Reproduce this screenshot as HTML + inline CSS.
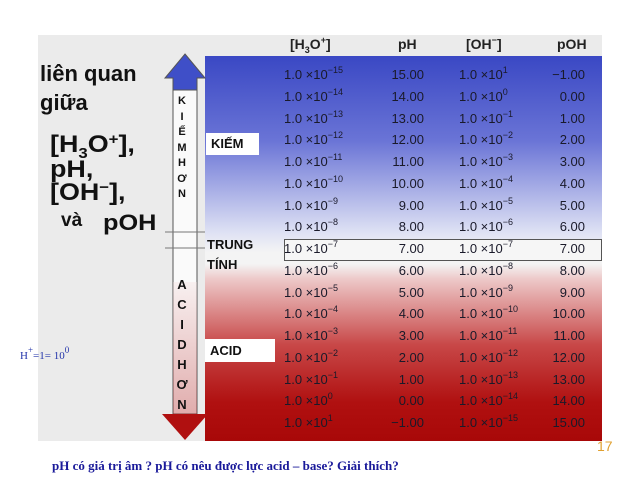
<!DOCTYPE html>
<html><head><meta charset="utf-8"><style>
body{margin:0;width:638px;height:478px;background:#fff;position:relative;overflow:hidden;font-family:"Liberation Sans",sans-serif}
.a{position:absolute;white-space:nowrap}
.c{font-size:13px;color:#1a1a2a;line-height:16px}
.b{font-weight:bold}
sup{font-size:9px;vertical-align:6px;line-height:0}
sub{line-height:0}
.t{font-weight:bold;color:#111;font-size:24px;line-height:24px;transform:scaleX(1.12);transform-origin:left top}
</style></head><body>
<div class="a" style="left:38px;top:35px;width:564px;height:406px;background:#ebebeb"></div>
<div class="a" style="left:205px;top:56px;width:397px;height:385px;background:linear-gradient(#3a48c4 0%,#6a74d6 22%,#dfe2f4 46%,#f4f4f4 51%,#f4f4f4 54%,#edc8c8 58%,#c84848 75%,#b01010 90%,#a80808 100%)"></div>
<div class="a" style="left:205px;top:35px;width:397px;height:21px;background:#ebebeb"></div>
<div class="a b" style="left:290px;top:36px;font-size:14px;color:#222">[H<sub style="font-size:9px">3</sub>O<sup>+</sup>]</div>
<div class="a b" style="left:398px;top:36px;font-size:14px;color:#222">pH</div>
<div class="a b" style="left:466px;top:36px;font-size:14px;color:#222">[OH<sup>−</sup>]</div>
<div class="a b" style="left:557px;top:36px;font-size:14px;color:#222">pOH</div>
<div class="a" style="left:284px;top:239px;width:316px;height:20px;border:1px solid #555;background:#f6f6f6"></div>
<div id="rows"></div>
<svg class="a" style="left:160px;top:50px" width="50" height="395">
<defs><linearGradient id="rg" x1="0" y1="0" x2="0" y2="1"><stop offset="0" stop-color="#f4dede"/><stop offset="1" stop-color="#b01818"/></linearGradient></defs>
<polygon points="25,4 45,28 37,28 37,40 13,40 13,28 5,28" fill="#3f4fc8" stroke="#555"/>
<rect x="13" y="40" width="24" height="158" fill="#fafafa" stroke="#555"/>
<rect x="13" y="198" width="24" height="166" fill="#fafafa" stroke="#555"/>
<rect x="13" y="232" width="24" height="135" fill="url(#rg)" opacity="0.35"/>
<line x1="5" y1="182" x2="45" y2="182" stroke="#777"/>
<line x1="5" y1="198" x2="45" y2="198" stroke="#777"/>
<polygon points="2,364 48,364 25,390" fill="#b01010"/>
</svg>
<div class="a b" style="left:176px;top:94px;font-size:11px;line-height:15.5px;width:12px;text-align:center;color:#111">K<br>I<br>Ế<br>M<br>H<br>Ơ<br>N</div>
<div class="a b" style="left:176px;top:275px;font-size:13px;line-height:20px;width:12px;text-align:center;color:#111">A<br>C<br>I<br>D<br>H<br>Ơ<br>N</div>
<div class="a b" style="left:206px;top:133px;width:53px;height:22px;background:#fff;font-size:13px;line-height:22px;padding-left:5px;box-sizing:border-box;color:#111">KIẾM</div>
<div class="a b" style="left:207px;top:235px;font-size:13px;line-height:20px;color:#111">TRUNG<br>TÍNH</div>
<div class="a b" style="left:205px;top:339px;width:70px;height:23px;background:#fff;font-size:13px;line-height:23px;padding-left:5px;box-sizing:border-box;color:#111">ACID</div>
<div class="a b" style="left:40px;top:63px;font-size:22px;line-height:22px;color:#111">liên quan</div>
<div class="a b" style="left:40px;top:92px;font-size:22px;line-height:22px;color:#111">giữa</div>
<div class="a t" style="left:50px;top:133px">[H<sub style="font-size:15px">3</sub>O<sup style="font-size:15px;vertical-align:8px">+</sup>],</div>
<div class="a t" style="left:50px;top:158px">pH,</div>
<div class="a t" style="left:50px;top:181px">[OH<sup style="font-size:15px;vertical-align:8px">−</sup>],</div>
<div class="a b" style="left:61px;top:211px;font-size:19px;line-height:19px;color:#111">và</div>
<div class="a t" style="left:103px;top:212px;font-size:22px;line-height:22px;transform:scaleX(1.15)">pOH</div>
<div class="a" style="left:20px;top:350px;font-family:'Liberation Serif',serif;font-size:11px;color:#2233aa">H<sup>+</sup>=1= 10<sup>0</sup></div>
<div class="a" style="left:597px;top:438px;font-size:14px;color:#e0a030">17</div>
<div class="a b" style="left:52px;top:458px;font-family:'Liberation Serif',serif;font-size:13px;color:#1a1a9a">pH có giá trị âm ? pH có nêu được lực acid – base? Giải thích?</div>
<script>
const h3oExp=[-15,-14,-13,-12,-11,-10,-9,-8,-7,-6,-5,-4,-3,-2,-1,0,1];
const phVals=["15.00","14.00","13.00","12.00","11.00","10.00","9.00","8.00","7.00","6.00","5.00","4.00","3.00","2.00","1.00","0.00","−1.00"];
const ohExp=[1,0,-1,-2,-3,-4,-5,-6,-7,-8,-9,-10,-11,-12,-13,-14,-15];
const pohVals=["−1.00","0.00","1.00","2.00","3.00","4.00","5.00","6.00","7.00","8.00","9.00","10.00","11.00","12.00","13.00","14.00","15.00"];
const wrap=document.getElementById('rows');
function fmt(e){return '1.0 ×10<sup>'+(e<0?'−'+(-e):e)+'</sup>';}
function cell(html,x,y,right,name){
  const d=document.createElement('div');
  d.className='a c';
  
  
  d.innerHTML=html;
  d.style.top=(y-8)+'px';
  if(right){d.style.left=(x-60)+'px';d.style.width='60px';d.style.textAlign='right';}
  else d.style.left=x+'px';
  wrap.appendChild(d);
}
function rowY(i){return 75+i*21.75;}
h3oExp.forEach((e,i)=>{
  const y=rowY(i);
  cell(fmt(e),284,y,false,'h3o-cell');
  cell(phVals[i],424,y,true,'ph-cell');
  cell(fmt(ohExp[i]),459,y,false,'oh-cell');
  cell(pohVals[i],585,y,true,'poh-cell');
});
</script>
</body></html>
